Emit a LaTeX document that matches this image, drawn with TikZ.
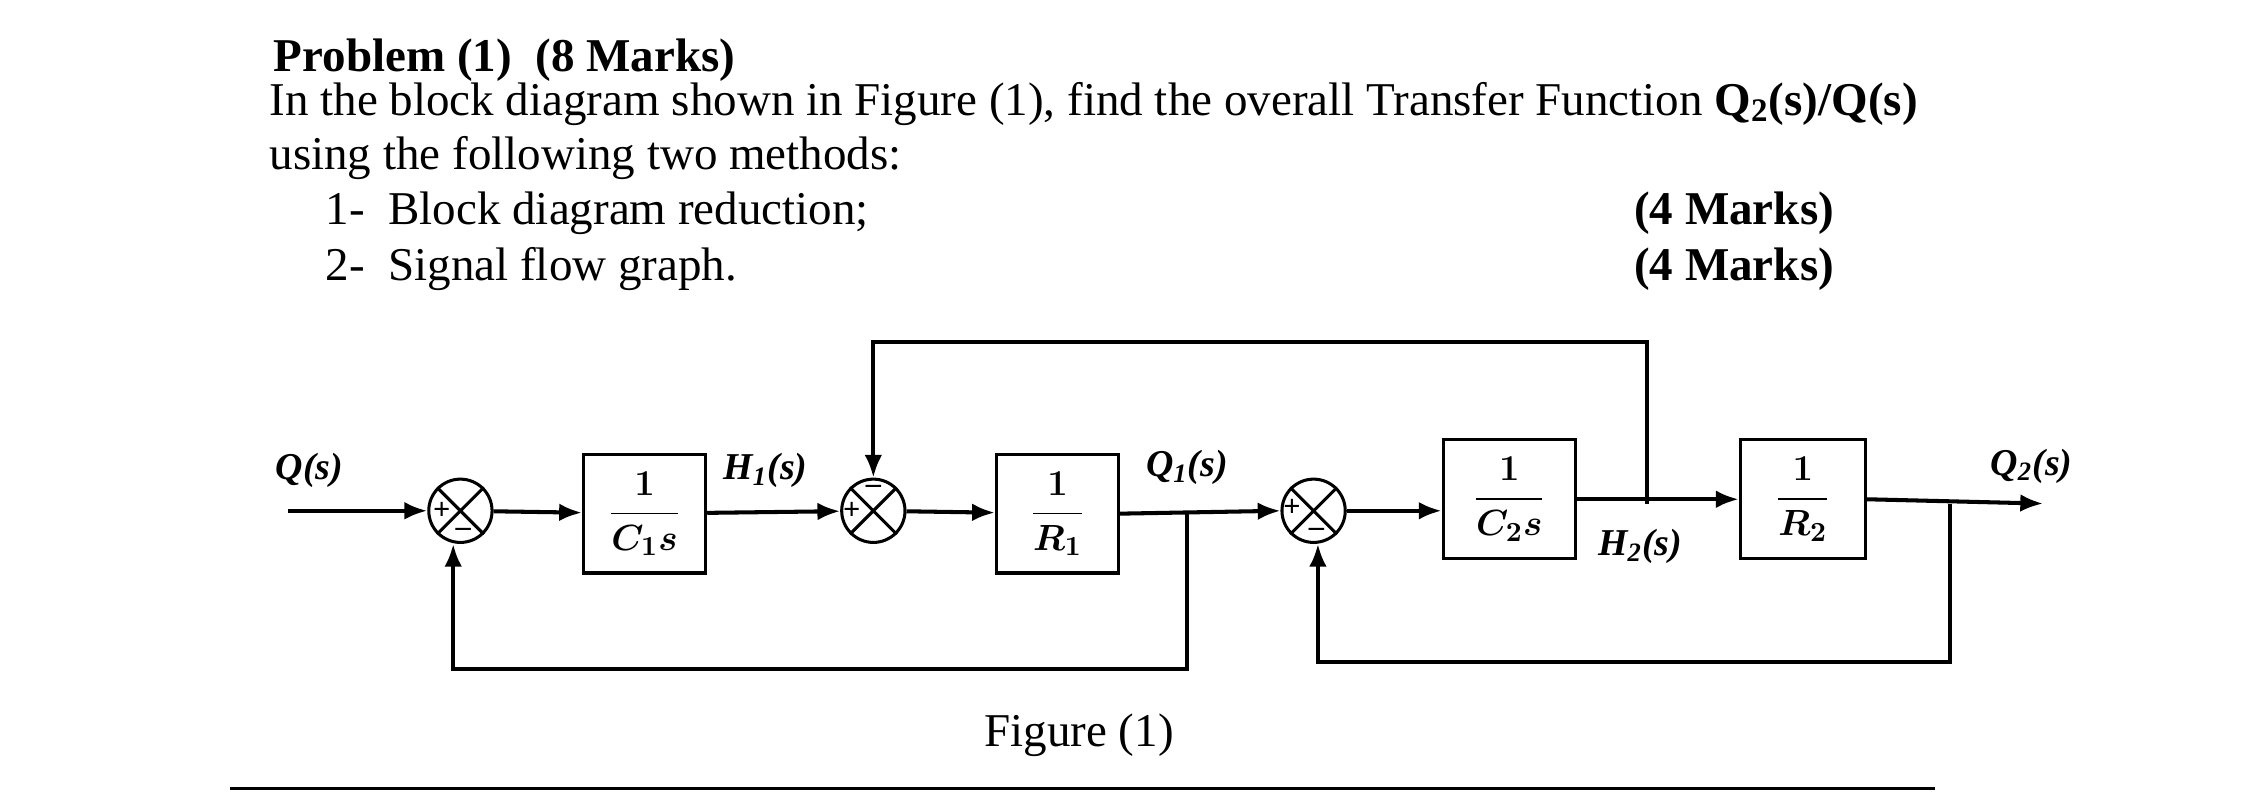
\documentclass[tikz,border=0pt]{standalone}
\usepackage{amsmath}
\usepackage{fontspec}
\setmainfont{Liberation Serif}
\usetikzlibrary{arrows.meta}
\begin{document}
\begin{tikzpicture}[x=0.02cm,y=-0.02cm,
  txt/.style={inner sep=0pt,font=\fontsize{18.6}{22}\selectfont},
  blk/.style={draw,line width=1.2pt,minimum width=1.7cm,minimum height=1.65cm,font=\fontsize{15}{18}\selectfont\boldmath},
  sumj/.style={draw,circle,line width=1.2pt,minimum size=0.88cm,inner sep=0pt},
  arr/.style={line width=1.6pt,-{Latex[length=9pt,width=7pt]}},
  lab/.style={font=\fontsize{15}{18}\selectfont\itshape\bfseries,inner sep=0pt},
  sgn/.style={font=\fontsize{12}{14}\selectfont\bfseries,inner sep=0pt}]
\useasboundingbox (0,0) rectangle (1568,555);
\node[txt,anchor=west,font=\fontsize{18.6}{22}\selectfont\bfseries] (t1) at (190,42) {Problem (1)\ \ (8 Marks)};
\node[txt,anchor=west] (t2) at (187,72) {In the block diagram shown in Figure (1), find the overall Transfer Function \textbf{Q\textsubscript{2}(s)/Q(s)}};
\node[txt,anchor=west] (t3) at (187,110) {using the following two methods:};
\node[txt,anchor=west] (t4) at (226,148) {1-\ \ Block diagram reduction;};
\node[txt,anchor=west] (t5) at (226,187) {2-\ \ Signal flow graph.};
\node[txt,anchor=east,font=\fontsize{18.6}{22}\selectfont\bfseries] (m1) at (1275,148) {(4 Marks)};
\node[txt,anchor=east,font=\fontsize{18.6}{22}\selectfont\bfseries] (m2) at (1275,187) {(4 Marks)};

\node[sumj] (s1) at (320,355) {};
\node[sumj] (s2) at (607,355) {};
\node[sumj] (s3) at (913,355) {};
\foreach \s in {s1,s2,s3}{\draw[line width=1.2pt] (\s.45)--(\s.225) (\s.135)--(\s.315);}
\node[sgn] (p1) at (307,355) {+}; \node[sgn] (n1) at (322,370) {\textendash};
\node[sgn] (p2) at (592,355) {+}; \node[sgn] (n2) at (607,340) {\textendash};
\node[sgn] (p3) at (898,353) {+}; \node[sgn] (n3) at (915,370) {\textendash};

\node[blk] (b1) at (448,357) {$\dfrac{1}{C_1 s}$};
\node[blk] (b2) at (735,357) {$\dfrac{1}{R_1}$};
\node[blk,minimum width=1.84cm] (b3) at (1049,347) {$\dfrac{1}{C_2 s}$};
\node[blk,minimum width=1.74cm] (b4) at (1253,347) {$\dfrac{1}{R_2}$};

\coordinate (in) at (200,355);
\coordinate (j1) at (825,355);
\coordinate (j2) at (1145,350);
\coordinate (j3) at (1355,350);
\coordinate (out) at (1420,350);

\draw[arr] (in) -- (s1);
\draw[arr] (s1) -- (b1);
\draw[arr] (b1) -- (s2);
\draw[arr] (s2) -- (b2);
\draw[arr] (b2.east) -- (s3.west);
\draw[arr] (s3) -- (b3.west |- s3);
\draw[arr] (b3.east) -- (b4.west);
\draw[arr] (b4.east) -- (out);
\draw[arr] (j1) -- (825,465) -- (315,465) -- (s1.south -| 315,0);
\draw[arr] (j2) -- (1145,238) -- (607,238) -- (s2.north);
\draw[arr] (j3) -- (1355,460) -- (916,460) -- (s3.south -| 916,0);

\node[lab] (lq) at (215,327) {Q(s)};
\node[lab] (lh1) at (532,327) {H\textsubscript{1}(s)};
\node[lab] (lq1) at (825,325) {Q\textsubscript{1}(s)};
\node[lab] (lh2) at (1140,380) {H\textsubscript{2}(s)};
\node[lab] (lq2) at (1412,324) {Q\textsubscript{2}(s)};
\node[txt] (fig) at (750,511) {Figure (1)};
\coordinate (l1) at (160,548); \coordinate (l2) at (1345,548);
\draw[line width=1pt] (l1) -- (l2);
\end{tikzpicture}
\end{document}
